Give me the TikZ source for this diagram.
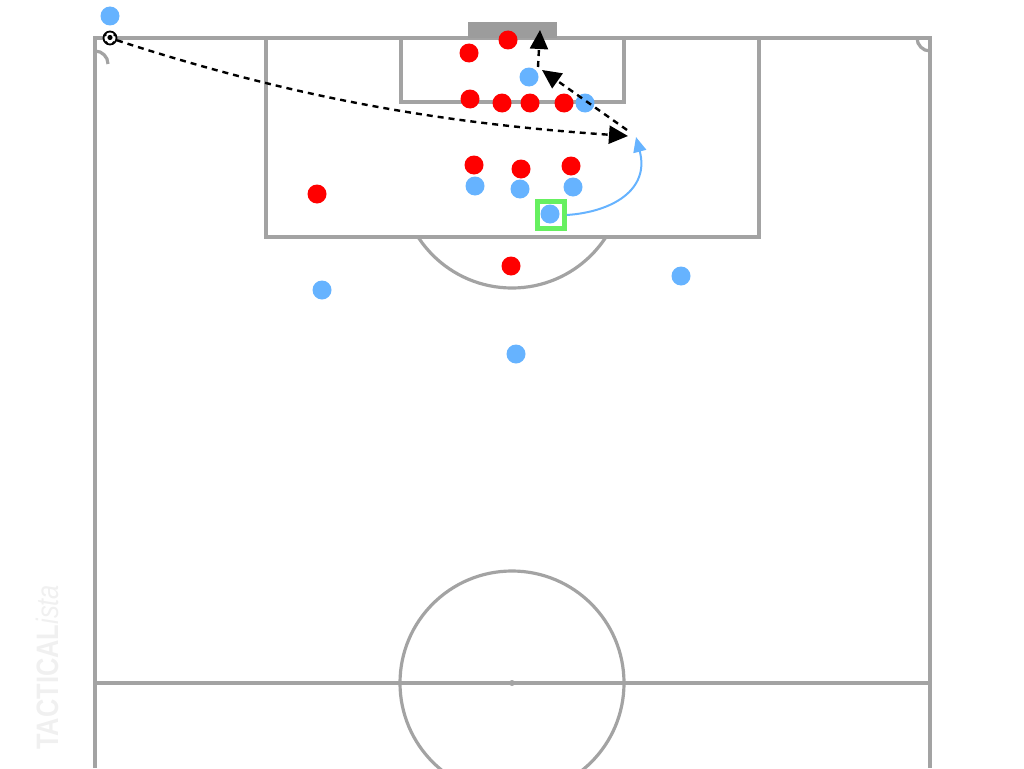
\documentclass[tikz,border=0pt]{standalone}
\usepackage{fontspec}
\setmainfont{Liberation Sans}
\usetikzlibrary{arrows.meta}
\definecolor{pitch}{HTML}{A3A3A3}
\definecolor{goalgray}{HTML}{9C9C9C}
\definecolor{pblue}{HTML}{66B3FF}
\definecolor{pred}{HTML}{FF0000}
\definecolor{hilite}{HTML}{66F060}
\definecolor{wmark}{HTML}{F0F0F0}
\tikzset{
  line/.style={draw=pitch, line width=3.2pt},
  blueplayer/.style={circle, fill=pblue, inner sep=0pt, minimum size=19pt},
  redplayer/.style={circle, fill=pred, inner sep=0pt, minimum size=19pt},
  passline/.style={line width=2.4pt, dash pattern=on 6pt off 5pt, -{Triangle[length=19pt,width=18pt]}},
  runline/.style={draw=pblue, line width=2pt, -{Triangle[length=15pt,width=13pt]}},
}
\begin{document}
\begin{tikzpicture}[x=1pt,y=-1pt]
\useasboundingbox (0,0) rectangle (1024,768);
% pitch
\draw[line] (95,768) -- (95,38) -- (930,38) -- (930,768);
\draw[line] (95,683) -- (930,683);
\draw[line] (266,38) -- (266,237) -- (759,237) -- (759,38);
\draw[line] (401,38) -- (401,102) -- (624,102) -- (624,38);
\fill[goalgray] (468,22) rectangle (557,38);
\draw[line] (512,683) circle[radius=112];
\fill[pitch] (512,683) circle[radius=3];
\begin{scope}
\clip (0,237) rectangle (1024,400);
\draw[line] (512,176) circle[radius=112];
\end{scope}
\draw[line] (95,51) arc[start angle=-90,end angle=0,radius=13];
\draw[line] (917,38) arc[start angle=180,end angle=90,radius=13];
% watermark
\node[rotate=90, text=wmark, font=\fontsize{31}{31}\selectfont, anchor=west, inner sep=0pt] (wm) at (47,750) {\scalebox{0.82}[1]{\textbf{TACTICAL}\textit{ista}}};
% players
\node[blueplayer] (b1) at (110,16) {};
\node[blueplayer] (b2) at (529,77) {};
\node[blueplayer] (b3) at (585,103) {};
\node[redplayer] (r1) at (508,40) {};
\node[redplayer] (r2) at (469,53) {};
\node[redplayer] (r3) at (470,99) {};
\node[redplayer] (r4) at (502,103) {};
\node[redplayer] (r5) at (530,103) {};
\node[redplayer] (r6) at (564,103) {};
\node[redplayer] (r7) at (474,165) {};
\node[redplayer] (r8) at (521,169) {};
\node[redplayer] (r9) at (571,166) {};
\node[blueplayer] (b4) at (475,186) {};
\node[blueplayer] (b5) at (520,189) {};
\node[blueplayer] (b6) at (573,187) {};
\node[redplayer] (r10) at (317,194) {};
\node[blueplayer] (b7) at (550,214) {};
\node[draw=hilite, line width=4.5pt, minimum size=27pt, inner sep=0pt] (hl) at (551,215) {};
\node[redplayer] (r11) at (511,266) {};
\node[blueplayer] (b8) at (322,290) {};
\node[blueplayer] (b9) at (681,276) {};
\node[blueplayer] (b10) at (516,354) {};
% ball
\node[circle, draw=black, fill=white, line width=1.8pt, minimum size=13pt, inner sep=0pt] (ball) at (110,38) {};
\fill[black] (110,37.5) circle[radius=2.6];
\fill[black] (105.5,35) circle[radius=1.4];
\fill[black] (114.5,35) circle[radius=1.4];
\fill[black] (106.5,42.5) circle[radius=1.4];
\fill[black] (113.5,42.5) circle[radius=1.4];
% connectors
\coordinate (cross) at (628,136);
\coordinate (head) at (542,70);
\coordinate (hs) at (538,67);
\coordinate (shot) at (540,30);
\coordinate (hstart) at (627,130);
\coordinate (runend) at (636,137);
\draw[passline] (ball) .. controls (300,100) and (450,124) .. (cross);
\draw[passline] (hstart) -- (head);
\draw[passline] (hs) -- (shot);
\draw[runline] (hl.east) .. controls (612,212) and (650,190) .. (runend);
\end{tikzpicture}
\end{document}
